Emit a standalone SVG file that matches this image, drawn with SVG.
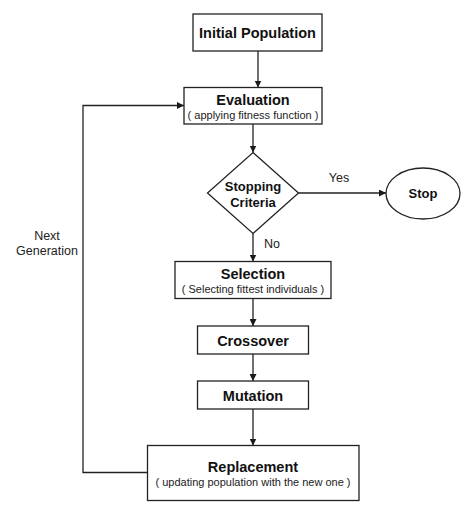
<svg xmlns="http://www.w3.org/2000/svg" width="474" height="515" viewBox="0 0 474 515">
<defs>
<marker id="arr" viewBox="0 0 10 10" refX="10" refY="5" markerWidth="7" markerHeight="7" markerUnits="userSpaceOnUse" orient="auto">
<path d="M0,0 L10,5 L0,10 Z" fill="#1a1a1a"/>
</marker>
</defs>
<style>
.box{fill:#fff;stroke:#222;stroke-width:1.3}
.ln{fill:none;stroke:#222;stroke-width:1.3;marker-end:url(#arr)}
.t{font-family:"Liberation Sans",Arial,sans-serif;font-weight:bold;font-size:14.5px;fill:#111;text-anchor:middle;dominant-baseline:central}
.s{font-family:"Liberation Sans",Arial,sans-serif;font-size:11px;fill:#222;text-anchor:middle;dominant-baseline:central}
.d{font-family:"Liberation Sans",Arial,sans-serif;font-weight:bold;font-size:13px;fill:#111;text-anchor:middle;dominant-baseline:central}
.l{font-family:"Liberation Sans",Arial,sans-serif;font-size:12.5px;fill:#222;text-anchor:middle;dominant-baseline:central}
</style>
<rect width="474" height="515" fill="#fff"/>
<g id="connectors">
<path class="ln" d="M258,51 V87.5"/>
<path class="ln" d="M253,124 V152.5"/>
<path class="ln" d="M298.5,193 H386"/>
<path class="ln" d="M253,233.5 V261.5"/>
<path class="ln" d="M253,298.5 V326"/>
<path class="ln" d="M253,354 V381"/>
<path class="ln" d="M253,409 V445.5"/>
<path class="ln" d="M147.5,472.5 H83 V105.5 H184"/>
<text class="l" x="339" y="178">Yes</text>
<text class="l" x="272" y="244">No</text>
<text class="l" x="47" y="235.5">Next</text>
<text class="l" x="47" y="251">Generation</text>
</g>
<g id="initial">
<rect class="box" x="193" y="14" width="129" height="37"/>
<text class="t" x="257.5" y="33">Initial Population</text>
</g>
<g id="evaluation">
<rect class="box" x="184" y="87.5" width="138" height="36.5"/>
<text class="t" x="253" y="100">Evaluation</text>
<text class="s" x="253" y="115">( applying fitness function )</text>
</g>
<g id="stopping">
<polygon class="box" points="253,152.5 298.5,193 253,233.5 207.5,193"/>
<text class="d" x="253" y="186.5">Stopping</text>
<text class="d" x="253" y="202.5">Criteria</text>
</g>
<g id="stop">
<ellipse class="box" cx="423" cy="193.5" rx="37" ry="25.5"/>
<text class="d" x="423" y="193.5">Stop</text>
</g>
<g id="selection">
<rect class="box" x="175" y="261.5" width="156" height="37"/>
<text class="t" x="253" y="273.5">Selection</text>
<text class="s" x="253" y="289">( Selecting fittest individuals )</text>
</g>
<g id="crossover">
<rect class="box" x="197.5" y="326" width="111" height="28"/>
<text class="t" x="253" y="340.5">Crossover</text>
</g>
<g id="mutation">
<rect class="box" x="197.5" y="381" width="111" height="28"/>
<text class="t" x="253" y="395.5">Mutation</text>
</g>
<g id="replacement">
<rect class="box" x="147.5" y="445.5" width="211.5" height="55"/>
<text class="t" x="253" y="466.5">Replacement</text>
<text class="s" x="253" y="482">( updating population with the new one )</text>
</g>
</svg>
